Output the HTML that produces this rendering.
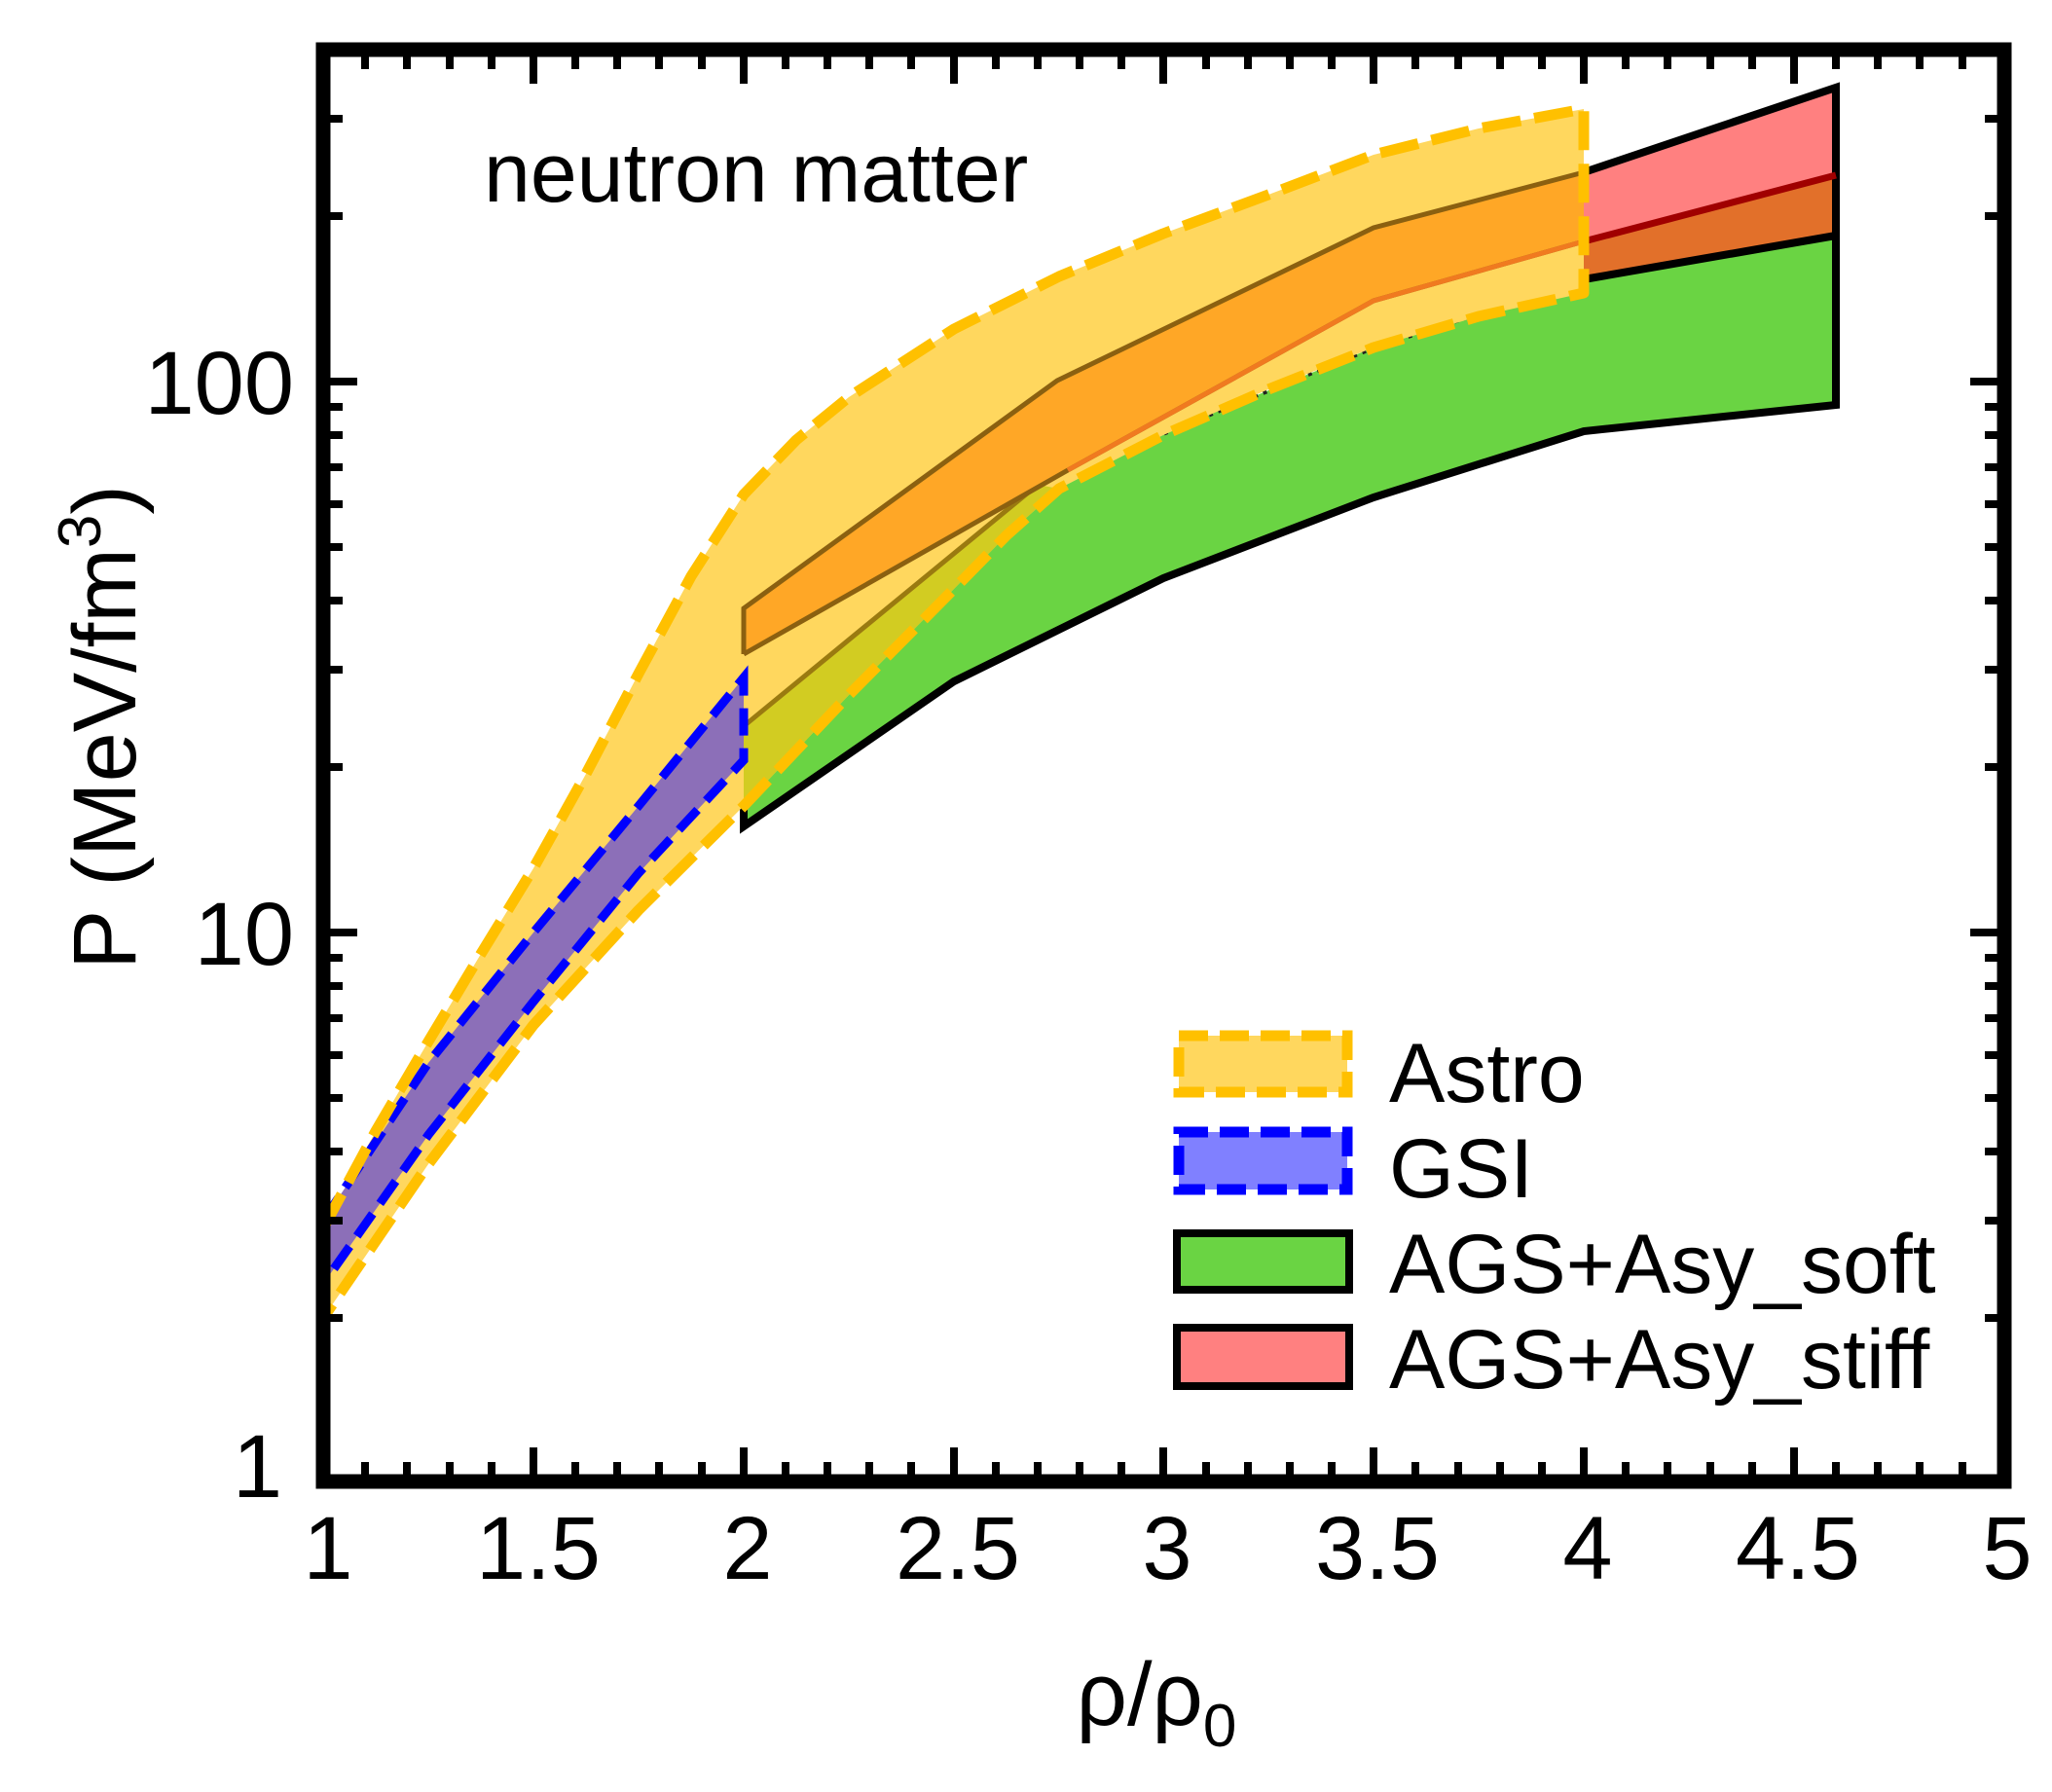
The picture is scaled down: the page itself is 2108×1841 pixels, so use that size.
<!DOCTYPE html>
<html><head><meta charset="utf-8"><style>
html,body{margin:0;padding:0;background:#fff;}
svg{display:block;}
text{font-family:"Liberation Sans",Arial,sans-serif;fill:#000;}
</style></head><body>
<svg width="2108" height="1841" viewBox="0 0 2108 1841" xmlns="http://www.w3.org/2000/svg">
<rect width="2108" height="1841" fill="#fff"/>

<!-- green soft band -->
<polygon points="764,849 980,700 1195,594 1411,511 1627,443 1886,416 1886,242 1627,287 1411,357 1066,498 764,746" fill="#6AD443"/>
<polyline points="764,746 764,849 980,700 1195,594 1411,511 1627,443 1886,416 1886,242" fill="none" stroke="#000" stroke-width="8" stroke-linejoin="miter"/>

<!-- stiff 4-4.6 -->
<polygon points="1627,248 1886,180 1886,242 1627,287" fill="#E2702A"/>
<polygon points="1627,177 1886,90 1886,180 1627,248" fill="#FF8080"/>
<polyline points="1627,177 1886,90 1886,242" fill="none" stroke="#000" stroke-width="8"/>
<line x1="1627" y1="287" x2="1886" y2="242" stroke="#000" stroke-width="8"/>
<line x1="1627" y1="248" x2="1886" y2="180" stroke="#A00000" stroke-width="7"/>

<!-- green top dotted under astro -->
<polyline points="1066,498 1411,357 1627,287" fill="none" stroke="#222" stroke-width="5" stroke-dasharray="4 6"/>

<!-- astro fill -->
<polygon points="332,1262 386,1162 440,1070 494,980 548,892 602,795 656,692 710,592 764,508 818,452 872,408 980,338 1088,284 1195,240 1303,200 1411,159 1519,132 1627,112 1627,301 1519,325 1411,357 1303,400 1195,447 1088,502 1034,550 980,605 872,714 764,828 656,935 548,1053 440,1196 332,1354" fill="#FFD75E"/>

<!-- yellow-green sliver -->
<polygon points="764,746 1066,498 1088,502 1034,550 980,605 872,714 764,828" fill="#D2CC22"/>
<polyline points="764,746 1066,498" fill="none" stroke="#9A7A10" stroke-width="5"/>

<!-- stiff band 2-4 -->
<polygon points="764,625 1086,391 1411,234 1627,177 1627,248 1411,309 1097,483 764,672" fill="#FFA726"/>
<polyline points="764,672 764,625 1086,391 1411,234 1627,177" fill="none" stroke="#8B6010" stroke-width="5"/>
<polyline points="764,672 1097,483 1411,309 1627,248" fill="none" stroke="#8B6010" stroke-width="5"/>
<polyline points="1097,483 1411,309 1627,248" fill="none" stroke="#F07A20" stroke-width="5"/>

<!-- GSI -->
<polygon points="332,1254 440,1092 548,958 656,828 764,696 764,781 656,897 548,1029 440,1166 332,1319" fill="#8C6FB8" stroke="#0000FF" stroke-width="9" stroke-dasharray="28 13"/>

<!-- astro dashed outline -->
<polygon points="332,1262 386,1162 440,1070 494,980 548,892 602,795 656,692 710,592 764,508 818,452 872,408 980,338 1088,284 1195,240 1303,200 1411,159 1519,132 1627,112 1627,301 1519,325 1411,357 1303,400 1195,447 1088,502 1034,550 980,605 872,714 764,828 656,935 548,1053 440,1196 332,1354" fill="none" stroke="#FFC000" stroke-width="11" stroke-dasharray="40 14" stroke-linejoin="round"/>

<!-- frame -->
<rect x="332" y="51" width="1727" height="1471" fill="none" stroke="#000" stroke-width="15"/>
<!-- ticks -->
<path d="M375 1522v-20M418 1522v-20M462 1522v-20M505 1522v-20M548 1522v-35M591 1522v-20M634 1522v-20M677 1522v-20M721 1522v-20M764 1522v-35M807 1522v-20M850 1522v-20M893 1522v-20M936 1522v-20M980 1522v-35M1023 1522v-20M1066 1522v-20M1109 1522v-20M1152 1522v-20M1195 1522v-35M1239 1522v-20M1282 1522v-20M1325 1522v-20M1368 1522v-20M1411 1522v-35M1454 1522v-20M1498 1522v-20M1541 1522v-20M1584 1522v-20M1627 1522v-35M1670 1522v-20M1713 1522v-20M1757 1522v-20M1800 1522v-20M1843 1522v-35M1886 1522v-20M1929 1522v-20M1972 1522v-20M2016 1522v-20
M375 51v20M418 51v20M462 51v20M505 51v20M548 51v35M591 51v20M634 51v20M677 51v20M721 51v20M764 51v35M807 51v20M850 51v20M893 51v20M936 51v20M980 51v35M1023 51v20M1066 51v20M1109 51v20M1152 51v20M1195 51v35M1239 51v20M1282 51v20M1325 51v20M1368 51v20M1411 51v35M1454 51v20M1498 51v20M1541 51v20M1584 51v20M1627 51v35M1670 51v20M1713 51v20M1757 51v20M1800 51v20M1843 51v35M1886 51v20M1929 51v20M1972 51v20M2016 51v20
M332 1354h20M332 1254h20M332 1183h20M332 1128h20M332 1084h20M332 1046h20M332 1013h20M332 984h20M332 958h35M332 788h20M332 688h20M332 617h20M332 562h20M332 518h20M332 480h20M332 447h20M332 418h20M332 392h35M332 222h20M332 122h20
M2059 1354h-20M2059 1254h-20M2059 1183h-20M2059 1128h-20M2059 1084h-20M2059 1046h-20M2059 1013h-20M2059 984h-20M2059 958h-35M2059 788h-20M2059 688h-20M2059 617h-20M2059 562h-20M2059 518h-20M2059 480h-20M2059 447h-20M2059 418h-20M2059 392h-35M2059 222h-20M2059 122h-20" stroke="#000" stroke-width="8" fill="none"/>

<!-- tick labels -->
<g font-size="92" text-anchor="middle">
<text x="337" y="1622">1</text>
<text x="553" y="1622">1.5</text>
<text x="768" y="1622">2</text>
<text x="984" y="1622">2.5</text>
<text x="1199" y="1622">3</text>
<text x="1415" y="1622">3.5</text>
<text x="1631" y="1622">4</text>
<text x="1847" y="1622">4.5</text>
<text x="2062" y="1622">5</text>
</g>
<g font-size="92" text-anchor="end">
<text x="302" y="425">100</text>
<text x="302" y="991">10</text>
<text x="290" y="1538">1</text>
</g>

<text x="497" y="207" font-size="86">neutron matter</text>

<!-- axis titles -->
<text x="1188" y="1772" font-size="92" text-anchor="middle">ρ/ρ<tspan font-size="62" dy="22">0</tspan></text>
<text transform="translate(139,747) rotate(-90)" font-size="92" text-anchor="middle">P (MeV/fm<tspan font-size="62" dy="-36">3</tspan><tspan dy="36">)</tspan></text>

<!-- legend -->
<rect x="1211" y="1064" width="173" height="58" fill="#FFD75E" stroke="#FFC000" stroke-width="11" stroke-dasharray="30 12"/>
<rect x="1211" y="1163" width="173" height="59" fill="#8080FF" stroke="#0000FF" stroke-width="11" stroke-dasharray="30 12"/>
<rect x="1209" y="1267" width="177" height="58" fill="#6AD443" stroke="#000" stroke-width="8"/>
<rect x="1209" y="1364" width="177" height="60" fill="#FF8080" stroke="#000" stroke-width="8"/>
<g font-size="86">
<text x="1427" y="1132">Astro</text>
<text x="1427" y="1230">GSI</text>
<text x="1427" y="1328">AGS+Asy_soft</text>
<text x="1427" y="1426">AGS+Asy_stiff</text>
</g>
</svg>
</body></html>
